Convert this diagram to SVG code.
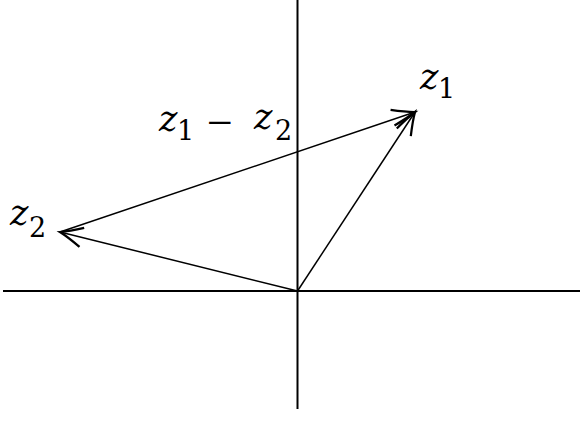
<svg xmlns="http://www.w3.org/2000/svg" width="580" height="432" viewBox="0 0 580 432">
<style>
.axis{stroke:#000;stroke-width:2;fill:none}
.vec{stroke:#000;stroke-width:1.5;fill:none;marker-end:url(#arr)}
.z{font-family:"DejaVu Serif","Liberation Serif",serif;font-style:italic;font-size:35px;fill:#000}
.sub{font-family:"DejaVu Serif","Liberation Serif",serif;font-size:27px;fill:#000}
.op{font-family:"Liberation Serif","DejaVu Serif",serif;font-size:46px;fill:#000}
</style>
<defs>
<marker id="arr" markerUnits="userSpaceOnUse" markerWidth="30" markerHeight="30" refX="0" refY="0" viewBox="-16 -10 20 20" orient="auto" overflow="visible">
<path d="M-15,-6.5 Q-6,-2 0,0 Q-6,2 -15,6.5" stroke="#000" stroke-width="1.5" fill="none"/>
</marker>
</defs>
<g id="axes">
<line class="axis" x1="3" y1="291" x2="580" y2="291"/>
<line class="axis" x1="297.5" y1="0" x2="297.5" y2="409"/>
</g>
<g id="connectors">
<line class="vec" x1="297.5" y1="291" x2="415" y2="112"/>
<line class="vec" x1="297.5" y1="291" x2="60" y2="232"/>
<line class="vec" x1="60" y1="232" x2="415" y2="112"/>
</g>
<g id="label-z1">
<text class="z" x="420" y="89">z</text>
<text class="sub" x="438" y="98">1</text>
</g>
<g id="label-z1-z2">
<text class="z" x="159" y="131">z</text>
<text class="sub" x="177" y="140">1</text>
<text class="op" x="207" y="138">−</text>
<text class="z" x="254" y="129">z</text>
<text class="sub" x="275" y="140">2</text>
</g>
<g id="label-z2">
<text class="z" x="10" y="225">z</text>
<text class="sub" x="29" y="237">2</text>
</g>
</svg>
